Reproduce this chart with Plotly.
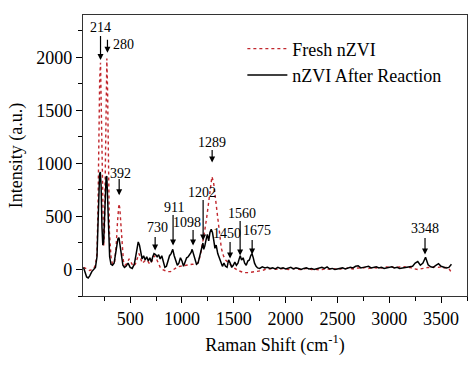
import plotly.graph_objects as go

# ---------------- data ----------------
fresh_x_peaks = [50,70,90,110,130,150,165,180,190,198,206,214,220,228,236,244,252,260,268,275,
                 282,290,300,315,330,350,365,378,386,392,400,410,422,435,450,470,490,510,530,550,
                 570,585,600,615,630,650,670,690,710,730,750,770,790,810,830,860,890,920,950,980,
                 1010,1040,1070,1100,1130,1160,1180,1200,1220,1240,1260,1275,1289,1305,1320,1340,1360,1380,1400,1420,
                 1440,1460,1480,1510,1540,1570,1600,1640,1680,1720]
fresh_y_peaks = [20,10,0,-10,0,10,40,150,600,1400,1800,1950,1600,900,400,220,350,1000,1700,1990,
                 1700,900,350,120,50,70,220,450,580,620,580,400,200,80,40,60,100,60,30,50,
                 120,150,110,60,70,90,80,50,80,130,110,60,20,0,-10,-20,-20,0,20,30,
                 35,40,45,50,45,70,150,250,370,500,680,810,875,820,700,500,330,200,130,90,
                 70,50,30,10,-10,-20,-30,-30,-25,-20]

after_x_peaks = [50,65,80,95,110,130,150,165,180,190,198,205,212,220,228,236,244,252,260,268,
                 275,283,292,302,315,330,345,360,372,382,392,402,415,430,445,460,480,500,520,540,
                 555,568,578,590,602,615,630,645,660,675,690,705,718,730,745,760,775,790,805,820,
                 835,850,865,880,895,911,925,940,955,970,985,1000,1015,1030,1045,1060,1075,1088,1098,1110,
                 1125,1140,1155,1170,1185,1195,1202,1210,1220,1232,1245,1258,1270,1282,1294,1306,1318,1330,1345,1360,
                 1375,1390,1405,1420,1435,1450,1465,1480,1495,1510,1525,1540,1552,1562,1575,1590,1605,1620,1635,1650,
                 1663,1675,1688,1700,1715,1730]
after_y_peaks = [20,-30,-70,-80,-60,-20,0,20,120,450,780,900,920,780,400,230,260,450,750,870,
                 880,700,350,120,50,40,60,150,240,290,300,240,120,40,20,30,60,20,10,50,
                 130,220,260,230,150,100,130,90,120,80,110,70,120,150,140,120,140,100,130,60,
                 20,30,90,130,150,190,130,80,40,60,110,80,30,70,110,120,140,160,190,150,
                 90,50,60,120,170,230,250,190,220,280,330,270,350,380,350,280,200,230,150,110,
                 60,30,60,30,20,90,60,20,40,70,40,60,100,130,90,110,60,40,80,90,
                 130,150,110,60,30,15]

flat_x = [1750,1775,1800,1825,1850,1875,1900,1925,1950,1975,2000,2025,2050,2075,2100,2125,2150,2175,2200,2225,
          2250,2275,2300,2325,2350,2375,2400,2425,2450,2475,2500,2525,2550,2575,2600,2625,2650,2675,2700,2725,
          2750,2775,2800,2825,2850,2875,2900,2925,2950,2975,3000,3025,3050,3075,3100,3125,3150,3175,3200,3225,
          3250,3275,3300,3325,3350,3375,3400,3425,3450,3475,3500,3525,3550,3575,3600]
fresh_y_flat = [-20,-10,0,5,10,10,5,0,5,10,5,0,5,10,5,0,0,5,10,5,
                0,5,0,-5,0,5,0,5,10,5,0,5,10,5,15,10,5,10,15,10,
                15,20,10,15,20,15,25,15,20,25,20,25,15,20,25,20,25,15,20,10,
                5,0,5,10,15,20,15,25,30,20,25,15,20,10,-30]
after_y_flat = [10,25,15,20,10,15,5,20,10,15,5,10,20,5,15,10,0,10,15,5,
                10,0,5,15,20,10,25,5,10,0,5,10,15,5,10,20,15,30,35,15,
                20,25,30,15,20,25,15,20,10,15,20,25,15,20,10,15,20,25,30,30,
                60,75,40,60,115,45,25,20,40,55,30,20,15,20,50]

fresh_x = fresh_x_peaks + flat_x
fresh_y = fresh_y_peaks + fresh_y_flat
after_x = after_x_peaks + flat_x
after_y = after_y_peaks + after_y_flat

peak_labels = ["214", "280", "392", "1289", "730", "911", "1098", "1202", "1450", "1560", "1675", "3348"]

x_ticks = [500, 1000, 1500, 2000, 2500, 3000, 3500]
y_ticks = [0, 500, 1000, 1500, 2000]

# ---------------- layout helpers (positions of labels/arrows) ----------------
# (label_x, label_y, arrow_x, arrow_tail_y, arrow_head_y)
label_pos = [
    (215, 2283, 214, 2215, 1975),
    (439, 2123, 281, 2180, 2045),
    (410, 906, 394, 868, 700),
    (1291, 1198, 1291, 1142, 1010),
    (760, 396, 741, 321, 180),
    (924, 585, 914, 528, 226),
    (1049, 443, 1107, 387, 226),
    (1194, 726, 1204, 670, 274),
    (1436, 340, 1464, 274, 104),
    (1577, 528, 1561, 472, 132),
    (1725, 368, 1677, 292, 142),
    (3345, 387, 3345, 311, 142),
]

FONT = "Liberation Serif"

fig = go.Figure()
fig.add_trace(go.Scatter(x=fresh_x, y=fresh_y, mode="lines", name="Fresh nZVI",
                         line=dict(color="#c1272d", width=1.4, dash="dot")))
fig.add_trace(go.Scatter(x=after_x, y=after_y, mode="lines", name="nZVI After Reaction",
                         line=dict(color="black", width=1.5)))

annotations = []
for lab, (lx, ly, axx, ty, hy) in zip(peak_labels, label_pos):
    annotations.append(dict(x=lx, y=ly, xref="x", yref="y", text=lab, showarrow=False,
                            font=dict(family=FONT, size=14, color="black")))
    annotations.append(dict(x=axx, y=hy, ax=axx, ay=ty, xref="x", yref="y", axref="x", ayref="y",
                            text="", showarrow=True, arrowhead=2, arrowsize=1, arrowwidth=1.2,
                            arrowcolor="black", standoff=0, startstandoff=0))

fig.update_layout(
    width=474, height=365,
    margin=dict(l=83, r=7, t=15, b=69),
    paper_bgcolor="white", plot_bgcolor="white",
    font=dict(family=FONT, size=18, color="black"),
    showlegend=True,
    legend=dict(x=0.415, y=0.945, xanchor="left", yanchor="top", bgcolor="rgba(0,0,0,0)",
                font=dict(family=FONT, size=18), tracegroupgap=0, itemwidth=40),
    annotations=annotations,
)
fig.update_xaxes(range=[45, 3750], tickvals=x_ticks, ticktext=[str(v) for v in x_ticks],
                 ticks="outside", ticklen=6, tickwidth=1.2, tickcolor="black",
                 minor=dict(tickvals=[250, 750, 1250, 1750, 2250, 2750, 3250, 3750], ticks="outside", ticklen=4, tickcolor="black"),
                 showline=True, linecolor="#333", linewidth=1.3, mirror=True,
                 showgrid=False, zeroline=False,
                 title=dict(text="Raman Shift (cm<sup>-1</sup>)", font=dict(family=FONT, size=18), standoff=10),
                 tickfont=dict(family=FONT, size=18))
fig.update_yaxes(range=[-250, 2400], tickvals=y_ticks, ticktext=[str(v) for v in y_ticks],
                 ticks="outside", ticklen=6, tickwidth=1.2, tickcolor="black",
                 minor=dict(tickvals=[-250, 250, 750, 1250, 1750, 2250], ticks="outside", ticklen=4, tickcolor="black"),
                 showline=True, linecolor="#333", linewidth=1.3, mirror=True,
                 showgrid=False, zeroline=False,
                 title=dict(text="Intensity (a.u.)", font=dict(family=FONT, size=18), standoff=8),
                 tickfont=dict(family=FONT, size=18))

fig.write_html("out.html")
